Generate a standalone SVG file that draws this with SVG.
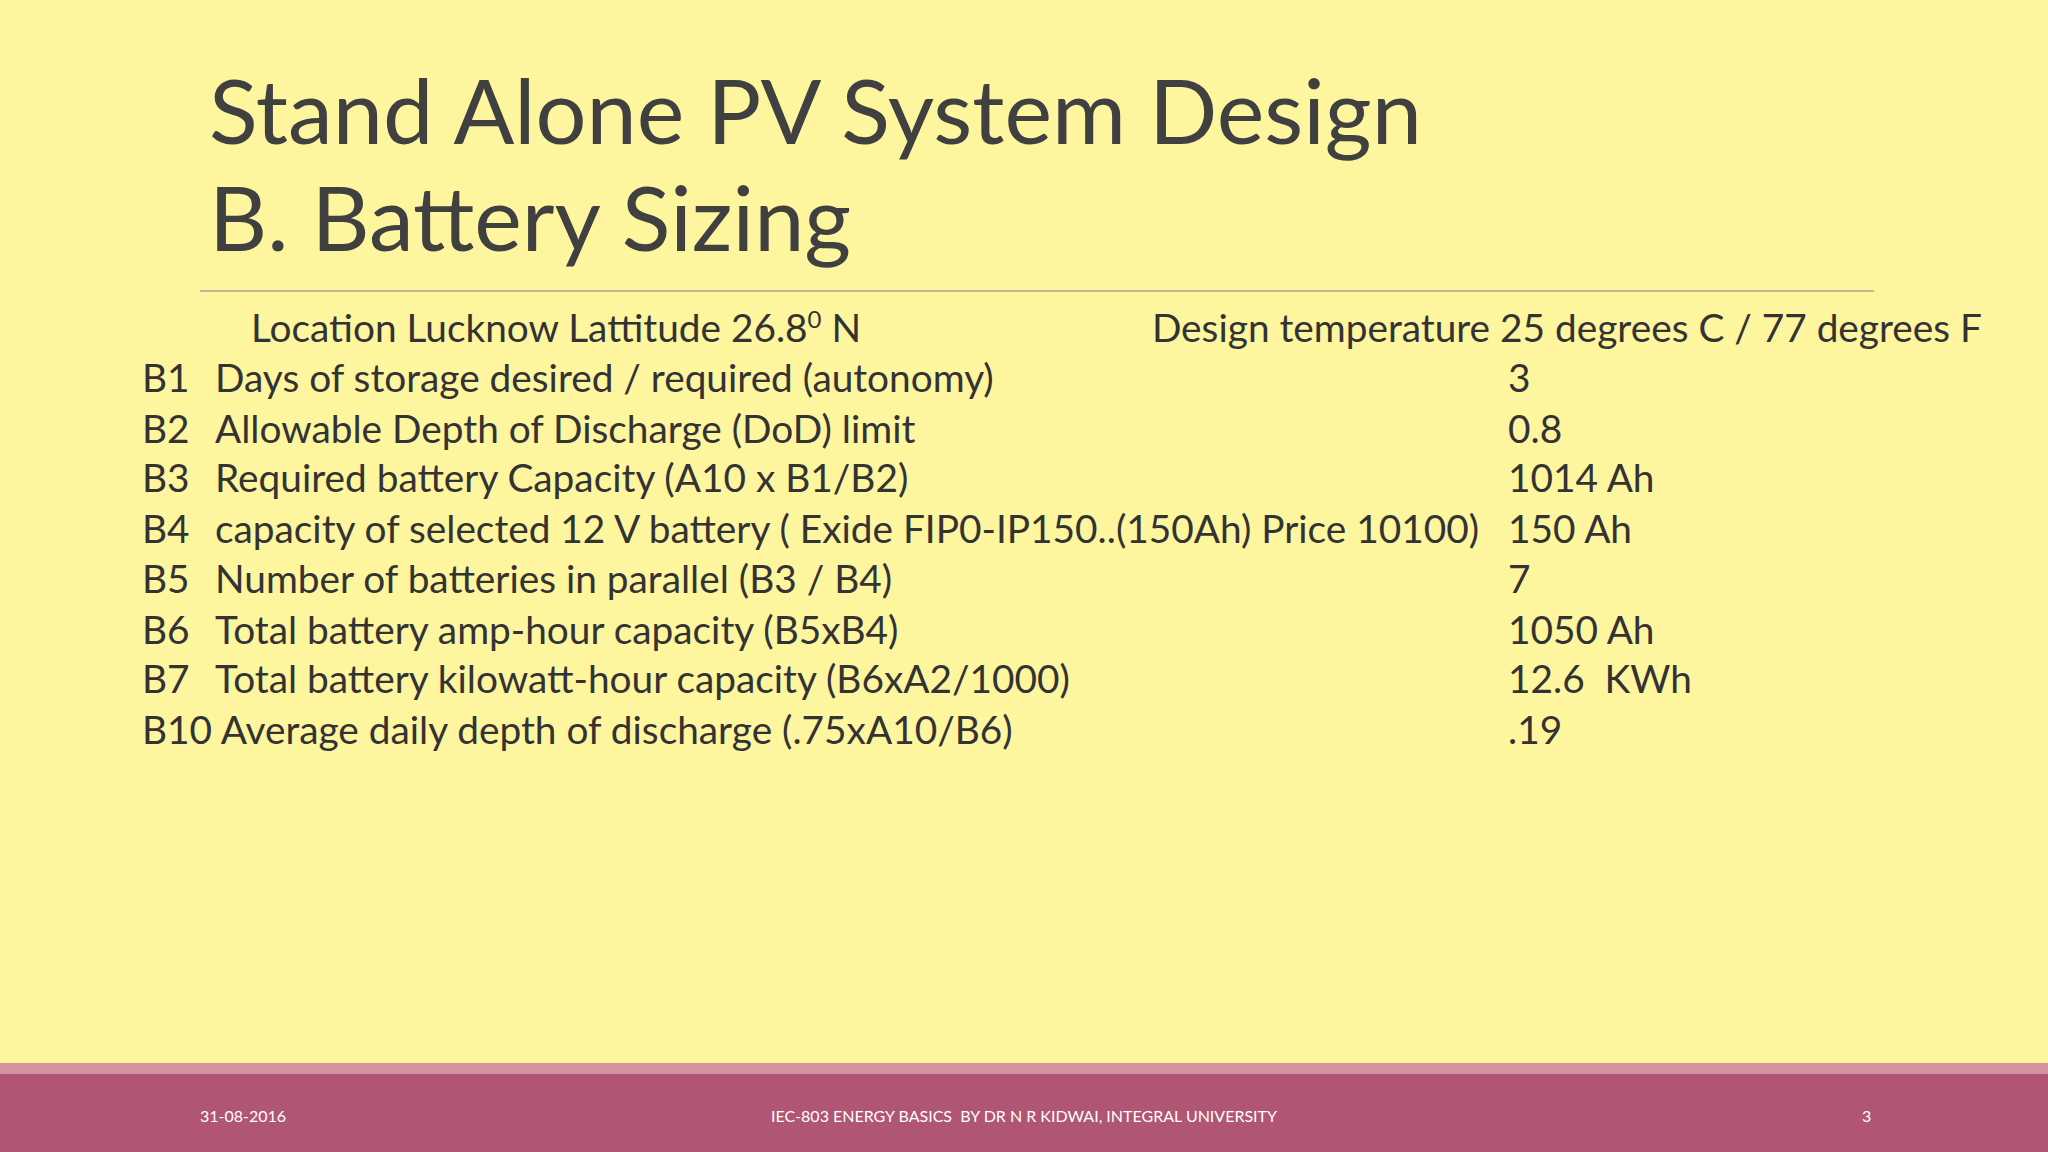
<svg xmlns="http://www.w3.org/2000/svg" width="2048" height="1152" viewBox="0 0 2048 1152">
<style>
.t{font-family:Lato,"Open Sans",sans-serif;fill:#404040}
.b{font-size:38.8px;fill:#333}
.f{font-size:16px;fill:#fff;font-family:Lato,"Open Sans",sans-serif}
</style>
<rect width="2048" height="1152" fill="#FEF59F"/>
<g id="title" class="t" font-size="90">
<text x="209" y="144">Stand Alone PV System Design</text>
<text x="209" y="251">B. Battery Sizing</text>
</g>
<line x1="200" y1="291" x2="1874" y2="291" stroke="#A8A690" stroke-width="1.5"/>
<g id="table" class="t b">
<text x="251" y="342">Location Lucknow Lattitude 26.8<tspan font-size="24" dy="-14">0</tspan><tspan dy="14"> N</tspan></text>
<text x="1982" y="342" text-anchor="end">Design temperature 25 degrees C / 77 degrees F</text>
<text x="142" y="392">B1</text><text x="215" y="392">Days of storage desired / required (autonomy)</text><text x="1508" y="392">3</text>
<text x="142" y="443">B2</text><text x="215" y="443">Allowable Depth of Discharge (DoD) limit</text><text x="1508" y="443">0.8</text>
<text x="142" y="492">B3</text><text x="215" y="492">Required battery Capacity (A10 x B1/B2)</text><text x="1508" y="492">1014 Ah</text>
<text x="142" y="543">B4</text><text x="215" y="543">capacity of selected 12 V battery ( Exide FIP0-IP150..(150Ah) Price 10100)</text><text x="1508" y="543">150 Ah</text>
<text x="142" y="593">B5</text><text x="215" y="593">Number of batteries in parallel (B3 / B4)</text><text x="1508" y="593">7</text>
<text x="142" y="644">B6</text><text x="215" y="644">Total battery amp-hour capacity (B5xB4)</text><text x="1508" y="644">1050 Ah</text>
<text x="142" y="693">B7</text><text x="215" y="693">Total battery kilowatt-hour capacity (B6xA2/1000)</text><text x="1508" y="693" xml:space="preserve">12.6  KWh</text>
<text x="142" y="744">B10 Average daily depth of discharge (.75xA10/B6)</text><text x="1508" y="744">.19</text>
</g>
<g id="footer">
<rect x="0" y="1063" width="2048" height="11" fill="#D4929F"/>
<rect x="0" y="1074" width="2048" height="78" fill="#B05573"/>
<text class="f" x="200" y="1122">31-08-2016</text>
<text class="f" x="1024" y="1122" text-anchor="middle" xml:space="preserve">IEC-803 ENERGY BASICS  BY DR N R KIDWAI, INTEGRAL UNIVERSITY</text>
<text class="f" x="1862" y="1122">3</text>
</g>
</svg>
